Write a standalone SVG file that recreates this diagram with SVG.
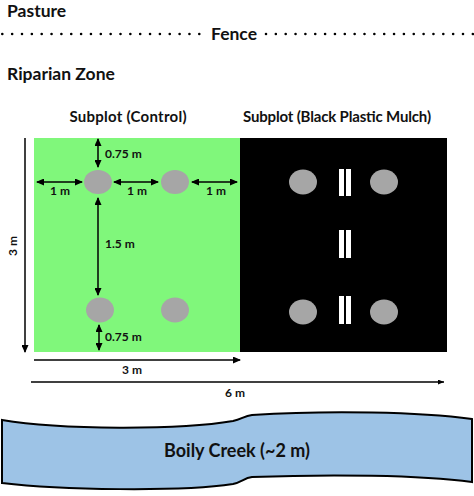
<svg xmlns="http://www.w3.org/2000/svg" width="474" height="496" viewBox="0 0 474 496">
<style>
.t{font-family:Lato,"Open Sans",sans-serif;font-weight:bold;fill:#111}
.big{font-size:17.5px}
.sub{font-size:15px}
.sm{font-size:12px}
.ln{stroke:#000;stroke-width:1.5;fill:none}
.pl{fill:#a6a6a6}
.bar{fill:#fff}
</style>
<defs>
<marker id="ah" markerUnits="userSpaceOnUse" markerWidth="8" markerHeight="7" refX="7" refY="3.5" orient="auto-start-reverse">
<path d="M0,0 L8,3.5 L0,7 z" fill="#000"/>
</marker>
<marker id="ahs" markerUnits="userSpaceOnUse" markerWidth="6" markerHeight="5" refX="6" refY="2.5" orient="auto">
<path d="M0,0 L6,2.5 L0,5 z" fill="#000"/>
</marker>
</defs>
<rect width="474" height="496" fill="#fff"/>
<g id="pasture"><text class="t big" x="7" y="17">Pasture</text></g>
<g id="fence">
<line x1="2.3" y1="34" x2="200" y2="34" stroke="#000" stroke-width="2.6" stroke-linecap="round" stroke-dasharray="0 9.85"/>
<line x1="266" y1="34" x2="474" y2="34" stroke="#000" stroke-width="2.6" stroke-linecap="round" stroke-dasharray="0 9.85"/>
<text class="t big" x="234" y="40" text-anchor="middle">Fence</text>
</g>
<g id="riparian"><text class="t big" x="7" y="80">Riparian Zone</text></g>
<g id="control">
<text class="t sub" x="128" y="122" text-anchor="middle" textLength="117">Subplot (Control)</text>
<rect x="34" y="138" width="206" height="214" fill="#80f77b"/>
<ellipse class="pl" cx="98" cy="182" rx="14" ry="12"/>
<ellipse class="pl" cx="175" cy="182" rx="14" ry="12"/>
<ellipse class="pl" cx="100" cy="310" rx="14" ry="12.5"/>
<ellipse class="pl" cx="175" cy="310" rx="14" ry="12.5"/>
</g>
<g id="mulch">
<text class="t sub" x="337" y="122" text-anchor="middle" textLength="188">Subplot (Black Plastic Mulch)</text>
<rect x="240" y="138" width="207" height="214" fill="#000"/>
<ellipse class="pl" cx="303" cy="182" rx="14" ry="12.5"/>
<ellipse class="pl" cx="384" cy="182" rx="14" ry="12.5"/>
<ellipse class="pl" cx="303" cy="312" rx="14" ry="12.5"/>
<ellipse class="pl" cx="384" cy="312" rx="14" ry="12.5"/>
<rect class="bar" x="339" y="169" width="5" height="27"/>
<rect class="bar" x="346" y="169" width="5" height="27"/>
<rect class="bar" x="339" y="230" width="5" height="28"/>
<rect class="bar" x="346" y="230" width="5" height="28"/>
<rect class="bar" x="339" y="296" width="5" height="28"/>
<rect class="bar" x="346" y="296" width="5" height="28"/>
</g>
<g id="connectors">
<line class="ln" x1="98" y1="139" x2="98" y2="167" marker-start="url(#ah)" marker-end="url(#ah)"/>
<line class="ln" x1="37" y1="182" x2="82" y2="182" marker-start="url(#ah)" marker-end="url(#ah)"/>
<line class="ln" x1="114" y1="182" x2="158" y2="182" marker-start="url(#ah)" marker-end="url(#ah)"/>
<line class="ln" x1="192" y1="182" x2="237" y2="182" marker-start="url(#ah)" marker-end="url(#ah)"/>
<line class="ln" x1="98" y1="198" x2="98" y2="295" marker-start="url(#ah)" marker-end="url(#ah)"/>
<line class="ln" x1="99" y1="325" x2="99" y2="350" marker-start="url(#ah)" marker-end="url(#ah)"/>
<line class="ln" x1="25" y1="138" x2="25" y2="352" marker-end="url(#ah)"/>
<line class="ln" x1="34" y1="360" x2="240" y2="360" marker-end="url(#ah)"/>
<line class="ln" x1="31" y1="382" x2="444" y2="382" marker-end="url(#ahs)"/>
</g>
<g id="labels">
<text class="t sm" x="105" y="158">0.75 m</text>
<text class="t sm" x="60" y="195" text-anchor="middle">1 m</text>
<text class="t sm" x="137" y="195" text-anchor="middle">1 m</text>
<text class="t sm" x="216" y="195" text-anchor="middle">1 m</text>
<text class="t sm" x="105" y="248">1.5 m</text>
<text class="t sm" x="105" y="341">0.75 m</text>
<text class="t sm" x="0" y="0" text-anchor="middle" transform="translate(17,246) rotate(-90)">3 m</text>
<text class="t sm" x="132" y="374" text-anchor="middle">3 m</text>
<text class="t sm" x="235" y="397" text-anchor="middle">6 m</text>
</g>
<g id="creek">
<path d="M2,420 C60,430 180,430 233,421 C242,419 244,416 252,415 C330,410 420,412 472,419 L472,482 C420,475 330,474 252,477 C244,478 242,482 233,484 C180,492 60,490 2,483 Z" fill="#9dc3e6" stroke="#000" stroke-width="2"/>
<text class="t" x="237" y="457" text-anchor="middle" font-size="18">Boily Creek (~2 m)</text>
</g>
</svg>
